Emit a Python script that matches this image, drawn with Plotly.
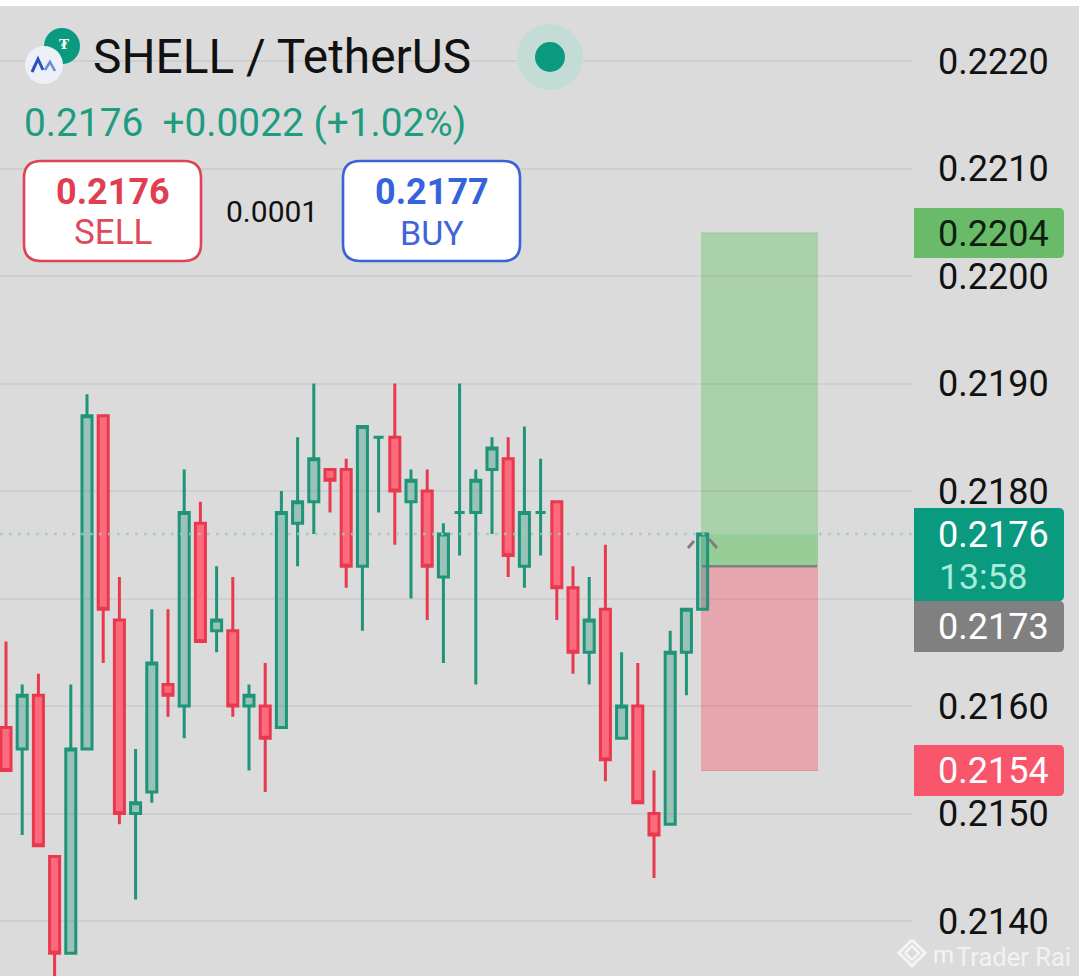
import plotly.graph_objects as go

# ---- data ----
opens  = [0.2158,0.2156,0.2161,0.2146,0.2137,0.2156,0.2187,0.2168,0.2150,0.2152,0.2162,0.2160,
          0.2177,0.2167,0.2167,0.2160,0.2160,0.2158,0.2177,0.2179,0.2182,0.2182,0.2173,0.2185,
          0.2185,0.2179,0.2180,0.2172,0.2178,0.2178,0.2182,0.2183,0.2173,0.2178,0.2179,0.2171,
          0.2165,0.2169,0.2157,0.2160,0.2150,0.2149,0.2165,0.2169]
highs  = [0.2166,0.2162,0.2163,0.2146,0.2162,0.2189,0.2187,0.2172,0.2156,0.2169,0.2169,0.2182,
          0.2179,0.2173,0.2172,0.2162,0.2164,0.2180,0.2185,0.2190,0.2182,0.2183,0.2186,0.2185,
          0.2190,0.2182,0.2182,0.2177,0.2190,0.2182,0.2185,0.2185,0.2186,0.2183,0.2179,0.2173,
          0.2172,0.2175,0.2165,0.2164,0.2154,0.2167,0.2169,0.2176]
lows   = [0.2154,0.2148,0.2147,0.2134,0.2137,0.2156,0.2164,0.2149,0.2142,0.2151,0.2159,0.2157,
          0.2166,0.2165,0.2159,0.2154,0.2152,0.2158,0.2173,0.2176,0.2178,0.2171,0.2167,0.2178,
          0.2175,0.2170,0.2168,0.2164,0.2174,0.2162,0.2176,0.2172,0.2171,0.2174,0.2168,0.2163,
          0.2162,0.2153,0.2157,0.2151,0.2144,0.2149,0.2161,0.2169]
closes = [0.2154,0.2161,0.2147,0.2137,0.2156,0.2187,0.2169,0.2150,0.2151,0.2164,0.2161,0.2178,
          0.2166,0.2168,0.2160,0.2161,0.2157,0.2178,0.2179,0.2183,0.2181,0.2173,0.2186,0.2185,
          0.2180,0.2181,0.2173,0.2176,0.2178,0.2181,0.2184,0.2174,0.2178,0.2178,0.2171,0.2165,
          0.2168,0.2155,0.2160,0.2151,0.2148,0.2165,0.2169,0.2176]
rising = [0,1,0,0,1,1,0,0,1,1,0,1,0,1,0,1,0,1,1,1,0,0,1,1,0,1,0,1,1,1,1,0,1,1,0,0,1,0,1,0,0,1,1,1]

tick_values = [0.2140,0.2150,0.2160,0.2170,0.2180,0.2190,0.2200,0.2210,0.2220]
tick_labels = ["0.2140","0.2150","0.2160","","0.2180","0.2190","0.2200","0.2210","0.2220"]
take_profit, entry, stop_loss, last_price = 0.2204, 0.2173, 0.2154, 0.2176
title_text = "SHELL / TetherUS"
change_text = "0.2176  +0.0022 (+1.02%)"
sell_price, buy_price, spread = "0.2176", "0.2177", "0.0001"
countdown = "13:58"

# ---- styling ----
W, H = 1079, 976
PL_R, PL_T = 912, 6            # plot area right edge and top in page pixels
BG = "#DBDBDB"
GREEN_LINE, GREEN_FILL = "#1E9478", "rgba(30,148,120,0.34)"
RED_LINE, RED_FILL = "#E8394F", "rgba(255,100,118,0.95)"
FONT = "Roboto"
STEP = 16.2                    # candle spacing
X0 = 6.0                       # first candle centre
Y_TOP = 0.21600 + (706 - PL_T) / 107500
Y_BOT = 0.21600 - (H - 706) / 107500


def px(x):
    return x / PL_R


def py(y):
    return (H - y) / (H - PL_T)


def candles(flag, line, fill):
    idx = [i for i, r in enumerate(rising) if r == flag]
    side = dict(line=dict(color=line, width=3), fillcolor=fill)
    return go.Candlestick(
        x=idx,
        open=[opens[i] for i in idx], high=[highs[i] for i in idx],
        low=[lows[i] for i in idx], close=[closes[i] for i in idx],
        increasing=side, decreasing=side, whiskerwidth=0, showlegend=False,
    )


fig = go.Figure([candles(1, GREEN_LINE, GREEN_FILL), candles(0, RED_LINE, RED_FILL)])
shapes, notes = [], []


def round_rect(x0, y0, x1, y1, r, fill, line=None, lw=0, corners="all", layer="above"):
    rl = r if corners == "all" else 0
    d = (f"M{px(x0+rl)},{py(y0)} L{px(x1-r)},{py(y0)} Q{px(x1)},{py(y0)} {px(x1)},{py(y0+r)} "
         f"L{px(x1)},{py(y1-r)} Q{px(x1)},{py(y1)} {px(x1-r)},{py(y1)} L{px(x0+rl)},{py(y1)} "
         f"Q{px(x0)},{py(y1)} {px(x0)},{py(y1-rl)} L{px(x0)},{py(y0+rl)} Q{px(x0)},{py(y0)} {px(x0+rl)},{py(y0)} Z")
    shapes.append(dict(type="path", path=d, xref="paper", yref="paper", fillcolor=fill, layer=layer,
                       line=dict(color=line or fill, width=lw)))


def circle(cx, cy, r, fill, ry=None):
    ry = ry or r
    shapes.append(dict(type="circle", xref="paper", yref="paper", x0=px(cx-r), x1=px(cx+r),
                       y0=py(cy+ry), y1=py(cy-ry), fillcolor=fill, line=dict(width=0), layer="above"))


def stroke(points, color, width, fill=None):
    d = "M" + " L".join(f"{px(a)},{py(b)}" for a, b in points)
    shapes.append(dict(type="path", path=d, xref="paper", yref="paper", layer="above",
                       line=dict(color=color, width=width), fillcolor=fill or "rgba(0,0,0,0)"))


def text(x, y, s, size, color, anchor="center", bold=False):
    notes.append(dict(text=f"<b>{s}</b>" if bold else s, xref="paper", yref="paper", x=px(x), y=py(y),
                      xanchor=anchor, yanchor="middle", showarrow=False,
                      font=dict(family=FONT, size=size, color=color)))


# white strip on top of the photo
shapes.append(dict(type="rect", xref="paper", yref="paper", x0=0, x1=W/PL_R, y0=1, y1=1+PL_T/(H-PL_T),
                   fillcolor="#FFFFFF", line=dict(width=0), layer="above"))

# position box
box_x0, box_x1 = px(701), px(818)
for lo, hi, col in [(entry, take_profit, "rgba(99,194,99,0.40)"),
                    (entry, last_price, "rgba(99,194,99,0.28)"),
                    (stop_loss, entry, "rgba(249,86,104,0.40)")]:
    shapes.append(dict(type="rect", xref="paper", yref="y", x0=box_x0, x1=box_x1, y0=lo, y1=hi,
                       fillcolor=col, line=dict(width=0), layer="below"))
shapes.append(dict(type="line", xref="paper", yref="y", x0=px(702), x1=px(817), y0=entry, y1=entry,
                   line=dict(color="#808080", width=2.5), layer="below"))
shapes.append(dict(type="line", xref="paper", yref="y", x0=box_x0, x1=box_x1, y0=take_profit, y1=take_profit,
                   line=dict(color="#9CC99C", width=1), layer="below"))
shapes.append(dict(type="line", xref="paper", yref="y", x0=box_x0, x1=box_x1, y0=stop_loss, y1=stop_loss,
                   line=dict(color="#E5939D", width=1), layer="below"))

# last-price dotted line
shapes.append(dict(type="line", xref="paper", yref="y", x0=0, x1=1, y0=last_price, y1=last_price,
                   line=dict(color="rgba(150,205,190,0.85)", width=2.6, dash="2.6px,6.4px"), layer="above"))

# chevron by the last candle
stroke([(688, 548), (694, 541)], "#7F7F7F", 3)
stroke([(709, 539), (717, 548)], "#7F7F7F", 3)

# price tags
round_rect(914, 208, 1064, 258, 5, "#6ABB69", corners="right")
round_rect(914, 508, 1064, 601, 5, "#0A9A80", corners="right")
round_rect(914, 601, 1064, 652, 5, "#808080", corners="right")
round_rect(914, 745, 1064, 796, 5, "#F9566B", corners="right")
text(993, 234, f"{take_profit:.4f}", 36, "#0E1F10")
text(993, 535, f"{last_price:.4f}", 36, "#FFFFFF")
text(937, 577, countdown, 35.5, "#A8EBD8", anchor="left")
text(993, 627, f"{entry:.4f}", 36, "#FFFFFF")
text(993, 771, f"{stop_loss:.4f}", 36, "#FFFFFF")

# header
circle(62, 46, 18, "#0A9A80")
text(64, 44, "₮", 15, "#FFFFFF", bold=True)
circle(44, 65, 19, "#EEF0F7")
stroke([(32, 72), (38, 59), (43, 70)], "#2B4FC0", 3)
stroke([(45, 70), (50, 62), (55, 71)], "#6C86D8", 2.5)
text(91, 57, title_text, 47.8, "#111111", anchor="left")
text(22, 122, change_text, 38.8, "#1E9C82", anchor="left")
circle(550, 57, 33, "#C4DCD6")
circle(550, 57, 15, "#0A9A80")

round_rect(24, 161, 201, 261, 17, "#FFFFFF", "#DD4556", 2.6)
text(112.5, 192, sell_price, 36, "#DF3F50", bold=True)
text(112.5, 233, "SELL", 35, "#DF4A5A")
text(271.5, 211, spread, 30, "#111111")
round_rect(343, 161, 520, 261, 17, "#FFFFFF", "#3A63D8", 2.6)
text(431.5, 192, buy_price, 36, "#3563DC", bold=True)
text(431.5, 233, "BUY", 34, "#3F66D6")

# watermark
stroke([(912, 940), (925, 953), (912, 966), (899, 953), (912, 940)], "#F4F4F4", 3)
stroke([(905, 953), (912, 946), (919, 953), (912, 960), (905, 953)], "#F4F4F4", 2.5)
text(931, 955, "m", 24, "#F4F4F4", anchor="left")
text(954, 957, "Trader Rai", 25.5, "#F2F2F2", anchor="left")

fig.update_layout(
    width=W, height=H, autosize=False,
    margin=dict(l=0, r=W-PL_R, t=PL_T, b=0, pad=0),
    paper_bgcolor=BG, plot_bgcolor=BG, showlegend=False, hovermode=False,
    shapes=shapes, annotations=notes, boxgap=0.38, boxgroupgap=0,
    xaxis=dict(visible=False, rangeslider=dict(visible=False),
               range=[-X0/STEP, (PL_R-X0)/STEP], fixedrange=True),
    yaxis=dict(side="right", range=[Y_BOT, Y_TOP], tickvals=tick_values, ticktext=tick_labels,
               showgrid=True, gridcolor="rgba(0,0,0,0.05)", gridwidth=2.2, zeroline=False, showline=False,
               ticks="", ticklabelstandoff=25, fixedrange=True,
               tickfont=dict(family=FONT, size=36, color="#111111")),
)

fig.write_html("out.html", config=dict(displayModeBar=False),
               post_script="document.body.style.margin='0';document.body.style.overflow='hidden';")
